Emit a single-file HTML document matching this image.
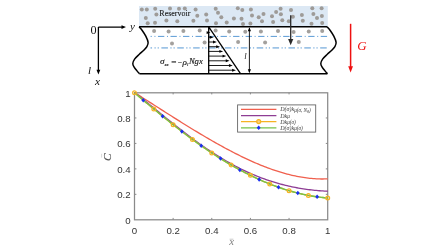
<!DOCTYPE html><html><head><meta charset="utf-8"><style>html,body{margin:0;padding:0;background:#fff;width:448px;height:252px;overflow:hidden}svg{display:block}.ser{font-family:"Liberation Serif",serif}.san{font-family:"Liberation Sans",sans-serif}</style></head><body>
<div id="wrap"><svg width="448" height="252" viewBox="0 0 448 252">
<rect x="139" y="6" width="188.8" height="20.8" fill="#dce8f4"/>
<circle cx="141.8" cy="9.4" r="2" fill="#9e9b98"/>
<circle cx="146.8" cy="9.6" r="2" fill="#9e9b98"/>
<circle cx="155.2" cy="8.7" r="2" fill="#9e9b98"/>
<circle cx="170" cy="8.5" r="2" fill="#9e9b98"/>
<circle cx="179" cy="8.7" r="2" fill="#9e9b98"/>
<circle cx="184.8" cy="8.4" r="2" fill="#9e9b98"/>
<circle cx="156.4" cy="14.6" r="2" fill="#9e9b98"/>
<circle cx="145.8" cy="18" r="2" fill="#9e9b98"/>
<circle cx="147.7" cy="23.2" r="2" fill="#9e9b98"/>
<circle cx="155" cy="22.75" r="2" fill="#9e9b98"/>
<circle cx="166.4" cy="20.5" r="2" fill="#9e9b98"/>
<circle cx="177.3" cy="21.3" r="2" fill="#9e9b98"/>
<circle cx="195.6" cy="9.4" r="2" fill="#9e9b98"/>
<circle cx="215.7" cy="8.7" r="2" fill="#9e9b98"/>
<circle cx="218" cy="12.7" r="2" fill="#9e9b98"/>
<circle cx="197.3" cy="15.7" r="2" fill="#9e9b98"/>
<circle cx="206.2" cy="14.6" r="2" fill="#9e9b98"/>
<circle cx="221.3" cy="17.2" r="2" fill="#9e9b98"/>
<circle cx="193.4" cy="20.7" r="2" fill="#9e9b98"/>
<circle cx="207" cy="20.5" r="2" fill="#9e9b98"/>
<circle cx="216" cy="23.2" r="2" fill="#9e9b98"/>
<circle cx="226.7" cy="22.6" r="2" fill="#9e9b98"/>
<circle cx="237.8" cy="8.2" r="2" fill="#9e9b98"/>
<circle cx="242.3" cy="10.1" r="2" fill="#9e9b98"/>
<circle cx="250.9" cy="9.6" r="2" fill="#9e9b98"/>
<circle cx="263.5" cy="14" r="2" fill="#9e9b98"/>
<circle cx="252" cy="15.5" r="2" fill="#9e9b98"/>
<circle cx="258.7" cy="17.2" r="2" fill="#9e9b98"/>
<circle cx="272" cy="16.2" r="2" fill="#9e9b98"/>
<circle cx="233.9" cy="18.5" r="2" fill="#9e9b98"/>
<circle cx="241.5" cy="18.7" r="2" fill="#9e9b98"/>
<circle cx="262" cy="21.3" r="2" fill="#9e9b98"/>
<circle cx="243" cy="24.1" r="2" fill="#9e9b98"/>
<circle cx="250.4" cy="23.5" r="2" fill="#9e9b98"/>
<circle cx="273.1" cy="22.1" r="2" fill="#9e9b98"/>
<circle cx="280.6" cy="8.7" r="2" fill="#9e9b98"/>
<circle cx="276.1" cy="12" r="2" fill="#9e9b98"/>
<circle cx="280.9" cy="14.3" r="2" fill="#9e9b98"/>
<circle cx="291" cy="10.1" r="2" fill="#9e9b98"/>
<circle cx="292.9" cy="16.8" r="2" fill="#9e9b98"/>
<circle cx="301.9" cy="15.0" r="2" fill="#9e9b98"/>
<circle cx="312.3" cy="8.3" r="2" fill="#9e9b98"/>
<circle cx="313.4" cy="13.9" r="2" fill="#9e9b98"/>
<circle cx="317" cy="17.9" r="2" fill="#9e9b98"/>
<circle cx="282.3" cy="20.2" r="2" fill="#9e9b98"/>
<circle cx="288.8" cy="21.3" r="2" fill="#9e9b98"/>
<circle cx="302.8" cy="20.8" r="2" fill="#9e9b98"/>
<circle cx="311.5" cy="23.8" r="2" fill="#9e9b98"/>
<circle cx="321.6" cy="8.3" r="2" fill="#9e9b98"/>
<circle cx="321.9" cy="15.9" r="2" fill="#9e9b98"/>
<circle cx="322.2" cy="23.1" r="2" fill="#9e9b98"/>
<text class="ser" x="159.3" y="16.0" font-size="8.0" fill="#1a1a1a" stroke="#1a1a1a" stroke-width="0.12">Reservoir</text>
<circle cx="154.1" cy="31" r="2" fill="#a3a09d"/>
<circle cx="168.6" cy="31.5" r="2" fill="#a3a09d"/>
<circle cx="183.4" cy="31" r="2" fill="#a3a09d"/>
<circle cx="199.7" cy="30.6" r="2" fill="#a3a09d"/>
<circle cx="215.6" cy="30.6" r="2" fill="#a3a09d"/>
<circle cx="229.2" cy="31.5" r="2" fill="#a3a09d"/>
<circle cx="245.3" cy="31.8" r="2" fill="#a3a09d"/>
<circle cx="260.9" cy="31.5" r="2" fill="#a3a09d"/>
<circle cx="278" cy="31" r="2" fill="#a3a09d"/>
<circle cx="293.6" cy="32.1" r="2" fill="#a3a09d"/>
<circle cx="308.75" cy="31.5" r="2" fill="#a3a09d"/>
<circle cx="322.2" cy="31.1" r="2" fill="#a3a09d"/>
<circle cx="172" cy="43.5" r="2" fill="#a3a09d"/>
<circle cx="204.6" cy="42.4" r="2" fill="#a3a09d"/>
<circle cx="238.1" cy="42" r="2" fill="#a3a09d"/>
<circle cx="265.1" cy="42.6" r="2" fill="#a3a09d"/>
<circle cx="298.75" cy="42" r="2" fill="#a3a09d"/>
<line x1="150.6" y1="36.4" x2="327.1" y2="36.4" stroke="#5b9bd5" stroke-width="1" stroke-dasharray="6.35 2.65 1 2.52" stroke-dashoffset="5.15"/>
<line x1="150.5" y1="47.9" x2="326.8" y2="47.9" stroke="#9dc3e6" stroke-width="1.6" stroke-dasharray="6.55 2.45 1.2 1.95 1.2 2.53" stroke-dashoffset="5.0"/>
<path d="M139.10,26.80 C139.65,27.45 141.28,29.13 142.40,30.70 C143.52,32.27 144.85,34.27 145.80,36.20 C146.75,38.13 147.92,40.57 148.10,42.30 C148.28,44.03 147.67,45.23 146.90,46.60 C146.13,47.97 144.77,49.22 143.50,50.50 C142.23,51.78 140.78,52.87 139.30,54.30 C137.82,55.73 135.68,57.55 134.60,59.10 C133.52,60.65 132.85,62.22 132.80,63.60 C132.75,64.98 133.60,66.18 134.30,67.40 C135.00,68.62 136.15,69.85 137.00,70.90 C137.85,71.95 139.00,73.23 139.40,73.70" fill="none" stroke="#000" stroke-width="1.5" stroke-linejoin="round"/>
<path d="M327.10,26.80 C327.65,27.45 329.28,29.13 330.40,30.70 C331.52,32.27 332.85,34.27 333.80,36.20 C334.75,38.13 335.92,40.57 336.10,42.30 C336.28,44.03 335.67,45.23 334.90,46.60 C334.13,47.97 332.77,49.22 331.50,50.50 C330.23,51.78 328.78,52.87 327.30,54.30 C325.82,55.73 323.68,57.55 322.60,59.10 C321.52,60.65 320.85,62.22 320.80,63.60 C320.75,64.98 321.60,66.18 322.30,67.40 C323.00,68.62 324.15,69.85 325.00,70.90 C325.85,71.95 327.00,73.23 327.40,73.70" fill="none" stroke="#000" stroke-width="1.5" stroke-linejoin="round"/>
<line x1="139.1" y1="26.8" x2="327.1" y2="26.8" stroke="#000" stroke-width="1.5"/>
<line x1="139.4" y1="73.7" x2="327.4" y2="73.7" stroke="#000" stroke-width="1.5"/>
<path d="M208.7,26.8 L208.7,73.7 M208.7,26.8 L240.5,73.7" fill="none" stroke="#000" stroke-width="1.3"/>
<line x1="208.7" y1="32.60" x2="207.63" y2="32.60" stroke="#000" stroke-width="0.9"/>
<path d="M210.43,32.60 L206.63,31.15 L206.63,34.05 z" fill="#000"/>
<line x1="208.7" y1="37.30" x2="210.82" y2="37.30" stroke="#000" stroke-width="0.9"/>
<path d="M213.62,37.30 L209.82,35.85 L209.82,38.75 z" fill="#000"/>
<line x1="208.7" y1="42.00" x2="214.01" y2="42.00" stroke="#000" stroke-width="0.9"/>
<path d="M216.81,42.00 L213.01,40.55 L213.01,43.45 z" fill="#000"/>
<line x1="208.7" y1="46.70" x2="217.19" y2="46.70" stroke="#000" stroke-width="0.9"/>
<path d="M219.99,46.70 L216.19,45.25 L216.19,48.15 z" fill="#000"/>
<line x1="208.7" y1="51.40" x2="220.38" y2="51.40" stroke="#000" stroke-width="0.9"/>
<path d="M223.18,51.40 L219.38,49.95 L219.38,52.85 z" fill="#000"/>
<line x1="208.7" y1="56.10" x2="223.57" y2="56.10" stroke="#000" stroke-width="0.9"/>
<path d="M226.37,56.10 L222.57,54.65 L222.57,57.55 z" fill="#000"/>
<line x1="208.7" y1="60.80" x2="226.75" y2="60.80" stroke="#000" stroke-width="0.9"/>
<path d="M229.55,60.80 L225.75,59.35 L225.75,62.25 z" fill="#000"/>
<line x1="208.7" y1="65.50" x2="229.94" y2="65.50" stroke="#000" stroke-width="0.9"/>
<path d="M232.74,65.50 L228.94,64.05 L228.94,66.95 z" fill="#000"/>
<line x1="208.7" y1="70.20" x2="233.13" y2="70.20" stroke="#000" stroke-width="0.9"/>
<path d="M235.93,70.20 L232.13,68.75 L232.13,71.65 z" fill="#000"/>
<line x1="249.4" y1="28.5" x2="249.4" y2="72" stroke="#000" stroke-width="0.9"/>
<path d="M249.4,27.3 L247.8,31.3 L251,31.3 z M249.4,73.2 L247.8,69.2 L251,69.2 z" fill="#000"/>
<text class="ser" x="244.3" y="59.1" font-size="8.6" font-style="italic" fill="#222">l</text>
<line x1="290.7" y1="15.2" x2="290.7" y2="40" stroke="#2a2a2a" stroke-width="1.3"/>
<path d="M290.7,45.2 L288.1,38.9 L293.3,38.9 z" fill="#2a2a2a"/>
<line x1="350.6" y1="23.8" x2="350.6" y2="67" stroke="#ee1111" stroke-width="1.5"/>
<path d="M350.6,72.4 L348.2,66.2 L353,66.2 z" fill="#ee1111"/>
<text class="ser" x="357.3" y="49.9" font-size="13" font-style="italic" fill="#ee1111">G</text>
<path d="M98.4,27.1 L123,27.1 M98.4,27.1 L98.4,71" fill="none" stroke="#000" stroke-width="1.3"/>
<path d="M126,27.1 L121.5,25.2 L121.5,29 z M98.4,74.4 L96.5,69.8 L100.3,69.8 z" fill="#000"/>
<text class="ser" x="90.6" y="33.7" font-size="12.2" fill="#111">0</text>
<text class="ser" x="130" y="29.6" font-size="11" font-style="italic" fill="#111">y</text>
<text class="ser" x="88" y="74.4" font-size="11" font-style="italic" fill="#111">l</text>
<text class="ser" x="95" y="84.9" font-size="11.4" font-style="italic" fill="#111">x</text>
<g class="ser" font-size="9.2" fill="#151515" stroke="#151515" stroke-width="0.15"><text x="160" y="64.4" font-style="italic">σ</text><text x="164.5" y="65.9" font-size="4.6" font-style="italic">xx</text><text x="171.3" y="65.0">=</text><text x="177.7" y="65.3" font-size="7.6">−</text><text x="182.6" y="64.5" font-style="italic">ρ</text><text x="186.9" y="66.2" font-size="5" font-style="italic">l</text><text x="188.9" y="64.1" font-size="8.6" font-style="italic">Ngx</text></g>
<rect x="134.5" y="92.8" width="193.2" height="127.00000000000001" fill="none" stroke="#8a8a8a" stroke-width="1.25"/>
<path d="M173.14,219.8 v-1.9 M173.14,92.5 v1.9 M134.5,194.34 h1.9 M327.7,194.34 h-1.9" stroke="#8a8a8a" stroke-width="1" fill="none"/>
<path d="M211.78,219.8 v-1.9 M211.78,92.5 v1.9 M134.5,168.88 h1.9 M327.7,168.88 h-1.9" stroke="#8a8a8a" stroke-width="1" fill="none"/>
<path d="M250.42,219.8 v-1.9 M250.42,92.5 v1.9 M134.5,143.42 h1.9 M327.7,143.42 h-1.9" stroke="#8a8a8a" stroke-width="1" fill="none"/>
<path d="M289.06,219.8 v-1.9 M289.06,92.5 v1.9 M134.5,117.96 h1.9 M327.7,117.96 h-1.9" stroke="#8a8a8a" stroke-width="1" fill="none"/>
<text class="san" transform="translate(134.50,233.8) scale(1,1.02)" font-size="9.7" text-anchor="middle" fill="#333">0</text>
<text class="san" transform="translate(130.7,223.80) scale(1,1.02)" font-size="9.7" text-anchor="end" fill="#333">0</text>
<text class="san" transform="translate(173.14,233.8) scale(1,1.02)" font-size="9.7" text-anchor="middle" fill="#333">0.2</text>
<text class="san" transform="translate(130.7,198.34) scale(1,1.02)" font-size="9.7" text-anchor="end" fill="#333">0.2</text>
<text class="san" transform="translate(211.78,233.8) scale(1,1.02)" font-size="9.7" text-anchor="middle" fill="#333">0.4</text>
<text class="san" transform="translate(130.7,172.88) scale(1,1.02)" font-size="9.7" text-anchor="end" fill="#333">0.4</text>
<text class="san" transform="translate(250.42,233.8) scale(1,1.02)" font-size="9.7" text-anchor="middle" fill="#333">0.6</text>
<text class="san" transform="translate(130.7,147.42) scale(1,1.02)" font-size="9.7" text-anchor="end" fill="#333">0.6</text>
<text class="san" transform="translate(289.06,233.8) scale(1,1.02)" font-size="9.7" text-anchor="middle" fill="#333">0.8</text>
<text class="san" transform="translate(130.7,121.96) scale(1,1.02)" font-size="9.7" text-anchor="end" fill="#333">0.8</text>
<text class="san" transform="translate(327.70,233.8) scale(1,1.02)" font-size="9.7" text-anchor="middle" fill="#333">1</text>
<text class="san" transform="translate(130.7,96.50) scale(1,1.02)" font-size="9.7" text-anchor="end" fill="#333">1</text>
<text class="ser" x="229.2" y="245.3" font-size="10.8" font-style="italic" fill="#808080">x</text><line x1="229.6" x2="233.4" y1="239.2" y2="239.2" stroke="#c4c4c4" stroke-width="0.9"/>
<text class="ser" transform="translate(110.9,160.9) rotate(-90)" font-size="11.4" font-style="italic" fill="#505050" stroke="#505050" stroke-width="0.15">C</text><line x1="101.6" x2="101.6" y1="153.8" y2="157.6" stroke="#d4d4d4" stroke-width="0.9"/>
<path d="M134.50,92.50 L136.12,93.54 L137.75,94.57 L139.37,95.61 L140.99,96.65 L142.62,97.68 L144.24,98.72 L145.86,99.76 L147.49,100.80 L149.11,101.84 L150.74,102.88 L152.36,103.92 L153.98,104.96 L155.61,105.99 L157.23,107.03 L158.85,108.07 L160.48,109.10 L162.10,110.14 L163.72,111.17 L165.35,112.20 L166.97,113.24 L168.59,114.27 L170.22,115.29 L171.84,116.32 L173.46,117.35 L175.09,118.37 L176.71,119.39 L178.34,120.41 L179.96,121.42 L181.58,122.43 L183.21,123.45 L184.83,124.45 L186.45,125.46 L188.08,126.46 L189.70,127.46 L191.32,128.45 L192.95,129.44 L194.57,130.43 L196.19,131.41 L197.82,132.39 L199.44,133.36 L201.06,134.33 L202.69,135.30 L204.31,136.26 L205.94,137.21 L207.56,138.16 L209.18,139.10 L210.81,140.04 L212.43,140.98 L214.05,141.90 L215.68,142.82 L217.30,143.74 L218.92,144.64 L220.55,145.55 L222.17,146.44 L223.79,147.33 L225.42,148.21 L227.04,149.08 L228.66,149.94 L230.29,150.80 L231.91,151.65 L233.54,152.49 L235.16,153.32 L236.78,154.14 L238.41,154.95 L240.03,155.76 L241.65,156.55 L243.28,157.34 L244.90,158.11 L246.52,158.88 L248.15,159.64 L249.77,160.38 L251.39,161.11 L253.02,161.84 L254.64,162.55 L256.26,163.25 L257.89,163.94 L259.51,164.61 L261.14,165.28 L262.76,165.93 L264.38,166.57 L266.01,167.20 L267.63,167.81 L269.25,168.41 L270.88,169.00 L272.50,169.57 L274.12,170.13 L275.75,170.67 L277.37,171.20 L278.99,171.72 L280.62,172.22 L282.24,172.70 L283.86,173.17 L285.49,173.62 L287.11,174.06 L288.74,174.48 L290.36,174.88 L291.98,175.27 L293.61,175.63 L295.23,175.99 L296.85,176.32 L298.48,176.63 L300.10,176.93 L301.72,177.21 L303.35,177.47 L304.97,177.71 L306.59,177.93 L308.22,178.13 L309.84,178.31 L311.46,178.47 L313.09,178.61 L314.71,178.72 L316.34,178.82 L317.96,178.90 L319.58,178.95 L321.21,178.98 L322.83,178.99 L324.45,178.97 L326.08,178.93 L327.70,178.87" fill="none" stroke="#f0604e" stroke-width="1.3"/>
<path d="M134.50,92.50 L136.12,93.77 L137.75,95.05 L139.37,96.33 L140.99,97.62 L142.62,98.92 L144.24,100.23 L145.86,101.54 L147.49,102.85 L149.11,104.17 L150.74,105.49 L152.36,106.81 L153.98,108.13 L155.61,109.46 L157.23,110.78 L158.85,112.11 L160.48,113.43 L162.10,114.76 L163.72,116.08 L165.35,117.40 L166.97,118.71 L168.59,120.02 L170.22,121.33 L171.84,122.63 L173.46,123.93 L175.09,125.23 L176.71,126.51 L178.34,127.79 L179.96,129.07 L181.58,130.33 L183.21,131.59 L184.83,132.84 L186.45,134.08 L188.08,135.32 L189.70,136.54 L191.32,137.75 L192.95,138.96 L194.57,140.15 L196.19,141.34 L197.82,142.51 L199.44,143.67 L201.06,144.82 L202.69,145.96 L204.31,147.09 L205.94,148.20 L207.56,149.31 L209.18,150.40 L210.81,151.47 L212.43,152.54 L214.05,153.59 L215.68,154.63 L217.30,155.65 L218.92,156.66 L220.55,157.66 L222.17,158.64 L223.79,159.61 L225.42,160.56 L227.04,161.50 L228.66,162.43 L230.29,163.34 L231.91,164.23 L233.54,165.12 L235.16,165.98 L236.78,166.83 L238.41,167.67 L240.03,168.49 L241.65,169.29 L243.28,170.08 L244.90,170.86 L246.52,171.62 L248.15,172.36 L249.77,173.09 L251.39,173.81 L253.02,174.51 L254.64,175.19 L256.26,175.86 L257.89,176.51 L259.51,177.15 L261.14,177.77 L262.76,178.38 L264.38,178.97 L266.01,179.55 L267.63,180.11 L269.25,180.65 L270.88,181.19 L272.50,181.70 L274.12,182.21 L275.75,182.69 L277.37,183.17 L278.99,183.63 L280.62,184.07 L282.24,184.50 L283.86,184.92 L285.49,185.32 L287.11,185.71 L288.74,186.08 L290.36,186.44 L291.98,186.79 L293.61,187.12 L295.23,187.44 L296.85,187.75 L298.48,188.04 L300.10,188.32 L301.72,188.59 L303.35,188.84 L304.97,189.09 L306.59,189.32 L308.22,189.53 L309.84,189.74 L311.46,189.93 L313.09,190.12 L314.71,190.29 L316.34,190.44 L317.96,190.59 L319.58,190.73 L321.21,190.85 L322.83,190.97 L324.45,191.07 L326.08,191.17 L327.70,191.25" fill="none" stroke="#8e3d94" stroke-width="1.3"/>
<path d="M134.50,92.80 L136.12,94.17 L137.75,95.53 L139.37,96.90 L140.99,98.27 L142.62,99.63 L144.24,101.00 L145.86,102.36 L147.49,103.72 L149.11,105.08 L150.74,106.43 L152.36,107.78 L153.98,109.13 L155.61,110.48 L157.23,111.82 L158.85,113.16 L160.48,114.49 L162.10,115.82 L163.72,117.14 L165.35,118.46 L166.97,119.77 L168.59,121.08 L170.22,122.38 L171.84,123.67 L173.46,124.96 L175.09,126.24 L176.71,127.51 L178.34,128.78 L179.96,130.04 L181.58,131.29 L183.21,132.53 L184.83,133.77 L186.45,135.00 L188.08,136.22 L189.70,137.43 L191.32,138.63 L192.95,139.83 L194.57,141.01 L196.19,142.19 L197.82,143.35 L199.44,144.51 L201.06,145.66 L202.69,146.80 L204.31,147.92 L205.94,149.04 L207.56,150.15 L209.18,151.25 L210.81,152.33 L212.43,153.41 L214.05,154.48 L215.68,155.53 L217.30,156.58 L218.92,157.61 L220.55,158.63 L222.17,159.64 L223.79,160.64 L225.42,161.63 L227.04,162.61 L228.66,163.58 L230.29,164.53 L231.91,165.47 L233.54,166.41 L235.16,167.32 L236.78,168.23 L238.41,169.13 L240.03,170.01 L241.65,170.88 L243.28,171.74 L244.90,172.59 L246.52,173.42 L248.15,174.24 L249.77,175.05 L251.39,175.85 L253.02,176.64 L254.64,177.41 L256.26,178.17 L257.89,178.91 L259.51,179.65 L261.14,180.37 L262.76,181.07 L264.38,181.77 L266.01,182.45 L267.63,183.12 L269.25,183.77 L270.88,184.41 L272.50,185.04 L274.12,185.66 L275.75,186.26 L277.37,186.85 L278.99,187.42 L280.62,187.98 L282.24,188.53 L283.86,189.06 L285.49,189.58 L287.11,190.09 L288.74,190.58 L290.36,191.06 L291.98,191.52 L293.61,191.97 L295.23,192.41 L296.85,192.83 L298.48,193.24 L300.10,193.63 L301.72,194.01 L303.35,194.37 L304.97,194.72 L306.59,195.05 L308.22,195.37 L309.84,195.67 L311.46,195.96 L313.09,196.23 L314.71,196.49 L316.34,196.73 L317.96,196.96 L319.58,197.17 L321.21,197.37 L322.83,197.55 L324.45,197.71 L326.08,197.86 L327.70,197.99" fill="none" stroke="#f5b324" stroke-width="1.4"/>
<path d="M134.50,92.80 L136.12,94.17 L137.75,95.53 L139.37,96.90 L140.99,98.27 L142.62,99.63 L144.24,101.00 L145.86,102.36 L147.49,103.72 L149.11,105.08 L150.74,106.43 L152.36,107.78 L153.98,109.13 L155.61,110.48 L157.23,111.82 L158.85,113.16 L160.48,114.49 L162.10,115.82 L163.72,117.14 L165.35,118.46 L166.97,119.77 L168.59,121.08 L170.22,122.38 L171.84,123.67 L173.46,124.96 L175.09,126.24 L176.71,127.51 L178.34,128.78 L179.96,130.04 L181.58,131.29 L183.21,132.53 L184.83,133.77 L186.45,135.00 L188.08,136.22 L189.70,137.43 L191.32,138.63 L192.95,139.83 L194.57,141.01 L196.19,142.19 L197.82,143.35 L199.44,144.51 L201.06,145.66 L202.69,146.80 L204.31,147.92 L205.94,149.04 L207.56,150.15 L209.18,151.25 L210.81,152.33 L212.43,153.41 L214.05,154.48 L215.68,155.53 L217.30,156.58 L218.92,157.61 L220.55,158.63 L222.17,159.64 L223.79,160.64 L225.42,161.63 L227.04,162.61 L228.66,163.58 L230.29,164.53 L231.91,165.47 L233.54,166.41 L235.16,167.32 L236.78,168.23 L238.41,169.13 L240.03,170.01 L241.65,170.88 L243.28,171.74 L244.90,172.59 L246.52,173.42 L248.15,174.24 L249.77,175.05 L251.39,175.85 L253.02,176.64 L254.64,177.41 L256.26,178.17 L257.89,178.91 L259.51,179.65 L261.14,180.37 L262.76,181.07 L264.38,181.77 L266.01,182.45 L267.63,183.12 L269.25,183.77 L270.88,184.41 L272.50,185.04 L274.12,185.66 L275.75,186.26 L277.37,186.85 L278.99,187.42 L280.62,187.98 L282.24,188.53 L283.86,189.06 L285.49,189.58 L287.11,190.09 L288.74,190.58 L290.36,191.06 L291.98,191.52 L293.61,191.97 L295.23,192.41 L296.85,192.83 L298.48,193.24 L300.10,193.63 L301.72,194.01 L303.35,194.37 L304.97,194.72 L306.59,195.05 L308.22,195.37 L309.84,195.67 L311.46,195.96 L313.09,196.23 L314.71,196.49 L316.34,196.73 L317.96,196.96 L319.58,197.17 L321.21,197.37 L322.83,197.55 L324.45,197.71 L326.08,197.86 L327.70,197.99" fill="none" stroke="#74c24b" stroke-width="1.4"/>
<circle cx="134.50" cy="92.80" r="1.85" fill="none" stroke="#f5b324" stroke-width="1.3"/>
<circle cx="153.82" cy="109.00" r="1.85" fill="none" stroke="#f5b324" stroke-width="1.3"/>
<circle cx="173.14" cy="124.70" r="1.85" fill="none" stroke="#f5b324" stroke-width="1.3"/>
<circle cx="192.46" cy="139.47" r="1.85" fill="none" stroke="#f5b324" stroke-width="1.3"/>
<circle cx="211.78" cy="152.98" r="1.85" fill="none" stroke="#f5b324" stroke-width="1.3"/>
<circle cx="231.10" cy="165.00" r="1.85" fill="none" stroke="#f5b324" stroke-width="1.3"/>
<circle cx="250.42" cy="175.37" r="1.85" fill="none" stroke="#f5b324" stroke-width="1.3"/>
<circle cx="269.74" cy="183.97" r="1.85" fill="none" stroke="#f5b324" stroke-width="1.3"/>
<circle cx="289.06" cy="190.68" r="1.85" fill="none" stroke="#f5b324" stroke-width="1.3"/>
<circle cx="308.38" cy="195.40" r="1.85" fill="none" stroke="#f5b324" stroke-width="1.3"/>
<circle cx="327.70" cy="197.99" r="1.85" fill="none" stroke="#f5b324" stroke-width="1.3"/>
<path d="M143.25,97.92 L145.15,100.17 L143.25,102.42 L141.35,100.17 z" fill="#1a2ff2"/>
<path d="M162.57,113.95 L164.47,116.20 L162.57,118.45 L160.67,116.20 z" fill="#1a2ff2"/>
<path d="M181.89,129.28 L183.79,131.53 L181.89,133.78 L179.99,131.53 z" fill="#1a2ff2"/>
<path d="M201.21,143.51 L203.11,145.76 L201.21,148.01 L199.31,145.76 z" fill="#1a2ff2"/>
<path d="M220.53,156.37 L222.43,158.62 L220.53,160.87 L218.63,158.62 z" fill="#1a2ff2"/>
<path d="M239.85,167.66 L241.75,169.91 L239.85,172.16 L237.95,169.91 z" fill="#1a2ff2"/>
<path d="M259.17,177.24 L261.07,179.49 L259.17,181.74 L257.27,179.49 z" fill="#1a2ff2"/>
<path d="M278.49,185.00 L280.39,187.25 L278.49,189.50 L276.59,187.25 z" fill="#1a2ff2"/>
<path d="M297.81,190.82 L299.71,193.07 L297.81,195.32 L295.91,193.07 z" fill="#1a2ff2"/>
<path d="M317.13,194.60 L319.03,196.85 L317.13,199.10 L315.23,196.85 z" fill="#1a2ff2"/>
<rect x="237.6" y="104.9" width="78.1" height="27.2" fill="#fff" stroke="#666" stroke-width="0.9"/>
<line x1="241" y1="109.4" x2="276.4" y2="109.4" stroke="#f0604e" stroke-width="1.3"/>
<line x1="241" y1="115.6" x2="276.4" y2="115.6" stroke="#8e3d94" stroke-width="1.3"/>
<line x1="241" y1="121.6" x2="276.4" y2="121.6" stroke="#f5b324" stroke-width="1.3"/>
<line x1="241" y1="127.8" x2="276.4" y2="127.8" stroke="#74c24b" stroke-width="1.3"/>
<circle cx="258.7" cy="121.6" r="1.95" fill="#fbd27a" stroke="#f5b324" stroke-width="1.3"/>
<path d="M258.7,125.5 L260.65,127.8 L258.7,130.1 L256.75,127.8 z" fill="#1a2ff2"/>
<text id="leg0" class="ser" x="280.2" y="111.30" font-size="6" font-style="italic" fill="#3a3a3a">D(σ)k<tspan font-size="5.2" dy="0.5">μ(σ, N</tspan><tspan font-size="4" dy="0.6">g</tspan><tspan font-size="5.2" dy="-0.6">)</tspan></text>
<text id="leg1" class="ser" x="280.2" y="117.50" font-size="6" font-style="italic" fill="#3a3a3a">Dk<tspan font-size="5.2" dy="0.5">μ</tspan></text>
<text id="leg2" class="ser" x="280.2" y="123.50" font-size="6" font-style="italic" fill="#3a3a3a">Dk<tspan font-size="5.2" dy="0.5">μ(σ)</tspan></text>
<text id="leg3" class="ser" x="280.2" y="129.70" font-size="6" font-style="italic" fill="#3a3a3a">D(σ)k<tspan font-size="5.2" dy="0.5">μ(σ)</tspan></text>
</svg></div></body></html>
